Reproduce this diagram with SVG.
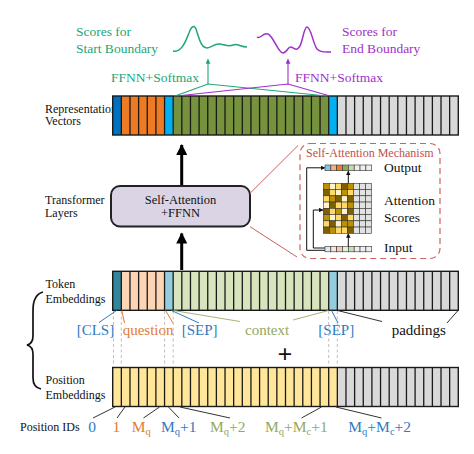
<svg xmlns="http://www.w3.org/2000/svg" xmlns:xlink="http://www.w3.org/1999/xlink" width="474" height="454" viewBox="0 0 474 454">
<style>
text{font-family:"Liberation Serif","Times New Roman",serif}
.lbl{font-size:12px;fill:#111}
.grid{stroke:#1a1a1a;stroke-width:1.3;fill:none}
.frame{stroke:#1a1a1a;stroke-width:1.4;fill:none}
.c{stroke:#333;stroke-width:0.6}
.a1{fill:#7f6000}.a2{fill:#bf9000}.a3{fill:#ffd966}.a4{fill:#fff2cc}.ag{fill:#e2e2e2}
.tl{font-size:15px}
.pid{font-size:15.5px}
.blue{fill:#2f7bbf}.orange{fill:#e27b33}.olive{fill:#93a95c}
.sgreen{fill:#21a67a}.spurple{fill:#a031c8}
</style>
<defs>
<path id="cells" d="M121.34,0V39M129.98,0V39M138.62,0V39M147.26,0V39M155.9,0V39M164.54,0V39M173.18,0V39M181.82,0V39M190.46,0V39M199.1,0V39M207.74,0V39M216.38,0V39M225.02,0V39M233.66,0V39M242.3,0V39M250.94,0V39M259.58,0V39M268.22,0V39M276.86,0V39M285.5,0V39M294.14,0V39M302.78,0V39M311.42,0V39M320.06,0V39M328.7,0V39M337.34,0V39M345.98,0V39M354.62,0V39M363.26,0V39M371.9,0V39M380.54,0V39M389.18,0V39M397.82,0V39M406.46,0V39M415.1,0V39M423.74,0V39M432.38,0V39M441.02,0V39M449.66,0V39"/>
<marker id="ahg" viewBox="0 0 6 6" refX="5" refY="3" markerWidth="5" markerHeight="5" orient="auto" markerUnits="userSpaceOnUse"><path d="M0,0L6,3L0,6z" fill="#21a67a"/></marker>
<marker id="ahp" viewBox="0 0 6 6" refX="5" refY="3" markerWidth="5" markerHeight="5" orient="auto" markerUnits="userSpaceOnUse"><path d="M0,0L6,3L0,6z" fill="#a031c8"/></marker>
<marker id="ahk" viewBox="0 0 6 6" refX="5" refY="3" markerWidth="4.5" markerHeight="4.5" orient="auto" markerUnits="userSpaceOnUse"><path d="M0,0L6,3L0,6z" fill="#111"/></marker>
<marker id="ahbig" viewBox="0 0 10 10" refX="9" refY="5" markerWidth="12" markerHeight="11" orient="auto" markerUnits="userSpaceOnUse"><path d="M0,0L10,5L0,10z" fill="#000"/></marker>
</defs>

<!-- scores -->
<g id="scores-start">
<text class="sgreen" x="76" y="36" font-size="13.5">Scores for</text>
<text class="sgreen" x="76" y="53" font-size="13.5">Start Boundary</text>
<path d="M173,51 C182,53 186,40 189,33 C191,27 194,24 196,29 C199,38 201,48 207,48 C212,48 214,43 220,44 C226,45 228,47 233,45 C238,43 240,47 247,47" fill="none" stroke="#21a67a" stroke-width="1.5"/>
<text class="sgreen" x="111" y="81.5" font-size="13.5">FFNN+Softmax</text>
</g>
<g id="scores-end">
<text class="spurple" x="342" y="36" font-size="13.5">Scores for</text>
<text class="spurple" x="342" y="53" font-size="13.5">End Boundary</text>
<path d="M257,37 C260,40 263,32 268,34 C274,37 278,53 283,53 C287,53 288,46 291,47 C295,48 296,52 300,46 C303,40 304,27 307,27 C311,27 313,44 317,49 C321,53 326,52 331,52" fill="none" stroke="#a031c8" stroke-width="1.5"/>
<text class="spurple" x="295" y="81.5" font-size="13.5">FFNN+Softmax</text>
</g>

<!-- representation vectors -->
<g id="rep-vectors">
<text class="lbl" x="45" y="112.5" font-size="10.5">Representation</text>
<text class="lbl" x="45" y="125" font-size="10.5">Vectors</text>
<rect x="112.7" y="96" width="8.64" height="39" fill="#0070c0"/>
<rect x="121.34" y="96" width="43.2" height="39" fill="#ee7b24"/>
<rect x="164.54" y="96" width="8.64" height="39" fill="#00b0f0"/>
<rect x="173.18" y="96" width="155.52" height="39" fill="#76923c"/>
<rect x="328.7" y="96" width="8.64" height="39" fill="#00b0f0"/>
<rect x="337.34" y="96" width="120.96" height="39" fill="#d9d9d9"/>
<use xlink:href="#cells" href="#cells" y="96" class="grid"/>
<rect x="112.7" y="96" width="345.6" height="39" class="frame"/>
</g>

<!-- transformer -->
<g id="transformer">
<text class="lbl" x="45" y="203.5">Transformer</text>
<text class="lbl" x="45" y="216.5">Layers</text>
<rect x="111" y="186" width="139" height="40.5" rx="9" fill="#dad4e4" stroke="#222" stroke-width="2"/>
<text x="180.5" y="203.5" font-size="12.5" text-anchor="middle" fill="#111">Self-Attention</text>
<text x="180.5" y="216.5" font-size="12.5" text-anchor="middle" fill="#111">+FFNN</text>
</g>

<!-- attention mechanism -->
<g id="attention-mechanism">
<rect x="300" y="143.5" width="140" height="115" rx="10" fill="none" stroke="#cc6361" stroke-width="1.2" stroke-dasharray="6,4"/>
<text x="306" y="157.3" font-size="12" fill="#c0504d">Self-Attention Mechanism</text>
<g class="c">
<rect x="325" y="165" width="5.84" height="5.7" fill="#7ecae3"/>
<rect x="330.84" y="165" width="5.84" height="5.7" fill="#f4b183"/>
<rect x="336.68" y="165" width="5.84" height="5.7" fill="#ed7d31"/>
<rect x="342.52" y="165" width="5.84" height="5.7" fill="#8faa5b"/>
<rect x="348.36" y="165" width="5.84" height="5.7" fill="#c5dba8"/>
<rect x="354.2" y="165" width="5.84" height="5.7" fill="#eeeeee"/>
<rect x="360.04" y="165" width="5.84" height="5.7" fill="#eeeeee"/>
<rect x="365.88" y="165" width="5.84" height="5.7" fill="#eeeeee"/>
</g>
<g class="c">
<rect x="323.3" y="183.3" width="6.04" height="6.25" class="a2"/><rect x="329.34" y="183.3" width="6.04" height="6.25" class="a4"/><rect x="335.38" y="183.3" width="6.04" height="6.25" class="a3"/><rect x="341.42" y="183.3" width="6.04" height="6.25" class="a1"/><rect x="347.46" y="183.3" width="6.04" height="6.25" class="a2"/><rect x="353.5" y="183.3" width="6.04" height="6.25" class="ag"/><rect x="359.54" y="183.3" width="6.04" height="6.25" class="ag"/><rect x="365.58" y="183.3" width="6.04" height="6.25" class="ag"/>
<rect x="323.3" y="189.55" width="6.04" height="6.25" class="a1"/><rect x="329.34" y="189.55" width="6.04" height="6.25" class="a3"/><rect x="335.38" y="189.55" width="6.04" height="6.25" class="a4"/><rect x="341.42" y="189.55" width="6.04" height="6.25" class="a2"/><rect x="347.46" y="189.55" width="6.04" height="6.25" class="a3"/><rect x="353.5" y="189.55" width="6.04" height="6.25" class="ag"/><rect x="359.54" y="189.55" width="6.04" height="6.25" class="ag"/><rect x="365.58" y="189.55" width="6.04" height="6.25" class="ag"/>
<rect x="323.3" y="195.8" width="6.04" height="6.25" class="a3"/><rect x="329.34" y="195.8" width="6.04" height="6.25" class="a2"/><rect x="335.38" y="195.8" width="6.04" height="6.25" class="a1"/><rect x="341.42" y="195.8" width="6.04" height="6.25" class="a4"/><rect x="347.46" y="195.8" width="6.04" height="6.25" class="a1"/><rect x="353.5" y="195.8" width="6.04" height="6.25" class="ag"/><rect x="359.54" y="195.8" width="6.04" height="6.25" class="ag"/><rect x="365.58" y="195.8" width="6.04" height="6.25" class="ag"/>
<rect x="323.3" y="202.05" width="6.04" height="6.25" class="a4"/><rect x="329.34" y="202.05" width="6.04" height="6.25" class="a1"/><rect x="335.38" y="202.05" width="6.04" height="6.25" class="a3"/><rect x="341.42" y="202.05" width="6.04" height="6.25" class="a3"/><rect x="347.46" y="202.05" width="6.04" height="6.25" class="a2"/><rect x="353.5" y="202.05" width="6.04" height="6.25" class="ag"/><rect x="359.54" y="202.05" width="6.04" height="6.25" class="ag"/><rect x="365.58" y="202.05" width="6.04" height="6.25" class="ag"/>
<rect x="323.3" y="208.3" width="6.04" height="6.25" class="a1"/><rect x="329.34" y="208.3" width="6.04" height="6.25" class="a3"/><rect x="335.38" y="208.3" width="6.04" height="6.25" class="a2"/><rect x="341.42" y="208.3" width="6.04" height="6.25" class="a4"/><rect x="347.46" y="208.3" width="6.04" height="6.25" class="a1"/><rect x="353.5" y="208.3" width="6.04" height="6.25" class="ag"/><rect x="359.54" y="208.3" width="6.04" height="6.25" class="ag"/><rect x="365.58" y="208.3" width="6.04" height="6.25" class="ag"/>
<rect x="323.3" y="214.55" width="6.04" height="6.25" class="a2"/><rect x="329.34" y="214.55" width="6.04" height="6.25" class="a4"/><rect x="335.38" y="214.55" width="6.04" height="6.25" class="a3"/><rect x="341.42" y="214.55" width="6.04" height="6.25" class="a1"/><rect x="347.46" y="214.55" width="6.04" height="6.25" class="a3"/><rect x="353.5" y="214.55" width="6.04" height="6.25" class="ag"/><rect x="359.54" y="214.55" width="6.04" height="6.25" class="ag"/><rect x="365.58" y="214.55" width="6.04" height="6.25" class="ag"/>
<rect x="323.3" y="220.8" width="6.04" height="6.25" class="a3"/><rect x="329.34" y="220.8" width="6.04" height="6.25" class="a1"/><rect x="335.38" y="220.8" width="6.04" height="6.25" class="a4"/><rect x="341.42" y="220.8" width="6.04" height="6.25" class="a2"/><rect x="347.46" y="220.8" width="6.04" height="6.25" class="a2"/><rect x="353.5" y="220.8" width="6.04" height="6.25" class="ag"/><rect x="359.54" y="220.8" width="6.04" height="6.25" class="ag"/><rect x="365.58" y="220.8" width="6.04" height="6.25" class="ag"/>
<rect x="323.3" y="227.05" width="6.04" height="6.25" class="a1"/><rect x="329.34" y="227.05" width="6.04" height="6.25" class="a2"/><rect x="335.38" y="227.05" width="6.04" height="6.25" class="a3"/><rect x="341.42" y="227.05" width="6.04" height="6.25" class="a3"/><rect x="347.46" y="227.05" width="6.04" height="6.25" class="a1"/><rect x="353.5" y="227.05" width="6.04" height="6.25" class="ag"/><rect x="359.54" y="227.05" width="6.04" height="6.25" class="ag"/><rect x="365.58" y="227.05" width="6.04" height="6.25" class="ag"/>
</g>
<g class="c">
<rect x="325" y="246.5" width="5.84" height="5.3" fill="#deebf7"/>
<rect x="330.84" y="246.5" width="5.84" height="5.3" fill="#fbe5d6"/>
<rect x="336.68" y="246.5" width="5.84" height="5.3" fill="#f8cbad"/>
<rect x="342.52" y="246.5" width="5.84" height="5.3" fill="#e2f0d9"/>
<rect x="348.36" y="246.5" width="5.84" height="5.3" fill="#c5e0b4"/>
<rect x="354.2" y="246.5" width="5.84" height="5.3" fill="#eeeeee"/>
<rect x="360.04" y="246.5" width="5.84" height="5.3" fill="#eeeeee"/>
<rect x="365.88" y="246.5" width="5.84" height="5.3" fill="#eeeeee"/>
</g>
<g fill="none" stroke="#111" stroke-width="1">
<path d="M348.3,246.5V234" marker-end="url(#ahk)"/>
<path d="M348.3,183.3V171.3" marker-end="url(#ahk)"/>
<path d="M325,250.3H306.7V167.8H324.5" marker-end="url(#ahk)"/>
<path d="M325,248H313.3V210H322.8" marker-end="url(#ahk)"/>
</g>
<text x="384" y="171.7" font-size="13.5" fill="#111">Output</text>
<text x="384" y="205" font-size="13.5" fill="#111">Attention</text>
<text x="384" y="221.7" font-size="13.5" fill="#111">Scores</text>
<text x="384" y="252" font-size="13.5" fill="#111">Input</text>
</g>

<!-- token embeddings -->
<g id="token-embeddings">
<text class="lbl" x="45.5" y="287.5">Token</text>
<text class="lbl" x="45.5" y="302.5">Embeddings</text>
<rect x="112.7" y="271.3" width="8.64" height="39" fill="#31859c"/>
<rect x="121.34" y="271.3" width="43.2" height="39" fill="#fcd5b5"/>
<rect x="164.54" y="271.3" width="8.64" height="39" fill="#93cddd"/>
<rect x="173.18" y="271.3" width="155.52" height="39" fill="#d7e4bd"/>
<rect x="328.7" y="271.3" width="8.64" height="39" fill="#93cddd"/>
<rect x="337.34" y="271.3" width="120.96" height="39" fill="#d9d9d9"/>
<use xlink:href="#cells" href="#cells" y="271.3" class="grid"/>
<rect x="112.7" y="271.3" width="345.6" height="39" class="frame"/>
<text class="tl blue" x="76.7" y="335">[CLS]</text>
<text class="tl orange" x="122.7" y="335">question</text>
<text class="tl blue" x="181.7" y="335">[SEP]</text>
<text class="tl olive" x="245" y="335">context</text>
<text class="tl blue" x="318.3" y="335">[SEP]</text>
<text class="tl" x="391.7" y="335" fill="#111">paddings</text>
</g>

<!-- brace and plus -->
<path id="brace" d="M43,292 C36,294 33,300 33,310 L33,336 C33,341 31,344 27,345 C31,346 33,349 33,354 L33,378 C33,385 36,388 41,389" fill="none" stroke="#111" stroke-width="1.7"/>
<text id="plus" x="285" y="362.5" font-size="26" font-weight="bold" text-anchor="middle" fill="#111">+</text>

<!-- position embeddings -->
<g id="position-embeddings">
<text class="lbl" x="45.5" y="383.5">Position</text>
<text class="lbl" x="45.5" y="398.5">Embeddings</text>
<rect x="112.7" y="367.5" width="224.64" height="39" fill="#ffe699"/>
<rect x="337.34" y="367.5" width="120.96" height="39" fill="#d9d9d9"/>
<use xlink:href="#cells" href="#cells" y="367.5" class="grid"/>
<rect x="112.7" y="367.5" width="345.6" height="39" class="frame"/>
</g>

<!-- position ids -->
<g id="position-ids">
<text class="lbl" x="20" y="431">Position IDs</text>
<text class="pid blue" x="88.3" y="432">0</text>
<text class="pid orange" x="112.5" y="432">1</text>
<text class="pid orange" x="131.7" y="432">M<tspan font-size="10.5" dy="3">q</tspan></text>
<text class="pid blue" x="161" y="432">M<tspan font-size="10.5" dy="3">q</tspan><tspan dy="-3">+1</tspan></text>
<text class="pid olive" x="210" y="432">M<tspan font-size="10.5" dy="3">q</tspan><tspan dy="-3">+2</tspan></text>
<text class="pid olive" x="265" y="432">M<tspan font-size="10.5" dy="3">q</tspan><tspan dy="-3">+M</tspan><tspan font-size="10.5" dy="3">c</tspan><tspan dy="-3">+1</tspan></text>
<text class="pid blue" x="348.3" y="432">M<tspan font-size="10.5" dy="3">q</tspan><tspan dy="-3">+M</tspan><tspan font-size="10.5" dy="3">c</tspan><tspan dy="-3">+2</tspan></text>
</g>

<!-- connectors -->
<g id="connectors" fill="none">
<path d="M208,84V59.5" stroke="#21a67a" stroke-width="1.1" marker-end="url(#ahg)"/>
<path d="M175,96L208,84L326.7,96" stroke="#21a67a" stroke-width="1.1"/>
<path d="M288,84V59.5" stroke="#a031c8" stroke-width="1.1" marker-end="url(#ahp)"/>
<path d="M176.7,96L288,84L330,96" stroke="#a031c8" stroke-width="1.1"/>
<path d="M181.7,185V145" stroke="#000" stroke-width="3" marker-end="url(#ahbig)"/>
<path d="M181.7,270V233.5" stroke="#000" stroke-width="3" marker-end="url(#ahbig)"/>
<path d="M250,193.3L298,145.5M250,226.7L297,257" stroke="#c9605e" stroke-width="1"/>
<path d="M113.5,311V367M121.3,311V367M164.6,311V367M173.2,311V367M328.7,311V367M337.3,311V367" stroke="#b8b8b8" stroke-width="0.9" stroke-dasharray="3,2.5"/>
<g stroke-width="1">
<path d="M116.5,310.5L99,322.5M171.5,310.5L199,323M331.5,310.5L338,323" stroke="#2f7bbf"/>
<path d="M121.8,310.5L124.5,323M165.5,310.5L173,323" stroke="#e27b33"/>
<path d="M173.5,310.5L240,321.5M328.5,310.5L293,320" stroke="#a4b57a"/>
<path d="M337.5,310.5L382,321.5M458,310.5L447,323" stroke="#333"/>
</g>
<path d="M115,407L93,418M125,407L117,418M159.5,407L143.5,418M168.5,407L179,418M180,407L230,418M321.5,407L301.5,418M336,407L381.5,418" stroke="#333" stroke-width="1"/>
</g>
</svg>
